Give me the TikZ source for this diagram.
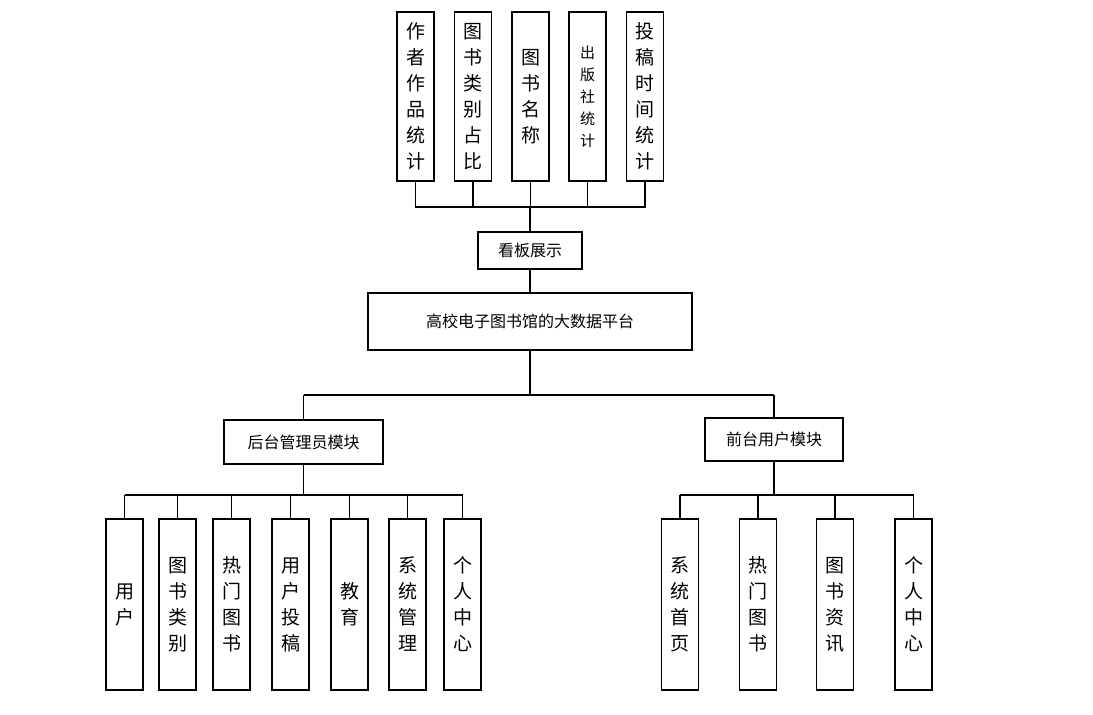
\documentclass[tikz,border=0pt]{standalone}
\usepackage{fontspec}
\setmainfont{Noto Sans CJK SC}
\begin{document}
\begin{tikzpicture}[x=1pt,y=-1pt,line width=1.2pt,
 vbox/.style={draw,minimum width=37pt,align=center,font=\fontsize{19}{26}\selectfont,inner sep=0pt},
 hbox/.style={draw,align=center,font=\fontsize{16}{20}\selectfont,inner sep=0pt}]
\useasboundingbox (0,0) rectangle (1093,715);
% top
\foreach \n/\x/\t in {t1/415.5/作\\者\\作\\品\\统\\计, t2/473/图\\书\\类\\别\\占\\比, t3/530.5/图\\书\\名\\称, t5/645/投\\稿\\时\\间\\统\\计}
  \node[vbox,minimum height=169pt] (\n) at (\x,96.5) {\t};
\node[vbox,minimum height=169pt,font=\fontsize{15}{22}\selectfont] (t4) at (587.5,96.5) {出\\版\\社\\统\\计};
\node[hbox,minimum width=104pt,minimum height=37pt] (kb) at (530,250.5) {看板展示};
\node[hbox,minimum width=324pt,minimum height=57pt] (main) at (530,321.5) {高校电子图书馆的大数据平台};
\node[hbox,minimum width=159pt,minimum height=44pt] (L) at (303.5,442) {后台管理员模块};
\node[hbox,minimum width=138pt,minimum height=43pt] (R) at (774,439.5) {前台用户模块};
\coordinate (tj) at (530,207);
\foreach \n in {t1,t2,t3,t4,t5} \draw (\n.south) |- (tj);
\draw (t1.south |- tj) -- (t5.south |- tj);
\draw (tj) -- (kb.north);
\draw (kb) -- (main);
\coordinate (mj) at (530,395);
\draw (main.south) -- (mj);
\draw (L.north |- mj) -- (R.north |- mj);
\draw (L.north |- mj) -- (L.north);
\draw (R.north |- mj) -- (R.north);
% left
\foreach \n/\x/\t in {a1/124.5/用\\户, a2/177.5/图\\书\\类\\别, a3/231.5/热\\门\\图\\书, a4/290.5/用\\户\\投\\稿, a5/349.5/教\\育, a6/407.5/系\\统\\管\\理, a7/462.5/个\\人\\中\\心}
  \node[vbox,minimum height=171pt] (\n) at (\x,604.5) {\t};
\draw (a1.north |- 0,495) -- (a7.north |- 0,495);
\draw (L.south) -- (L.south |- 0,495);
\foreach \n in {a1,a2,a3,a4,a5,a6,a7} \draw (\n.north) -- (\n.north |- 0,495);
% right
\foreach \n/\x/\t in {b1/680/系\\统\\首\\页, b2/758/热\\门\\图\\书, b3/835/图\\书\\资\\讯, b4/913.5/个\\人\\中\\心}
  \node[vbox,minimum height=171pt] (\n) at (\x,604.5) {\t};
\draw (b1.north |- 0,495) -- (b4.north |- 0,495);
\draw (R.south) -- (R.south |- 0,495);
\foreach \n in {b1,b2,b3,b4} \draw (\n.north) -- (\n.north |- 0,495);
\end{tikzpicture}
\end{document}
